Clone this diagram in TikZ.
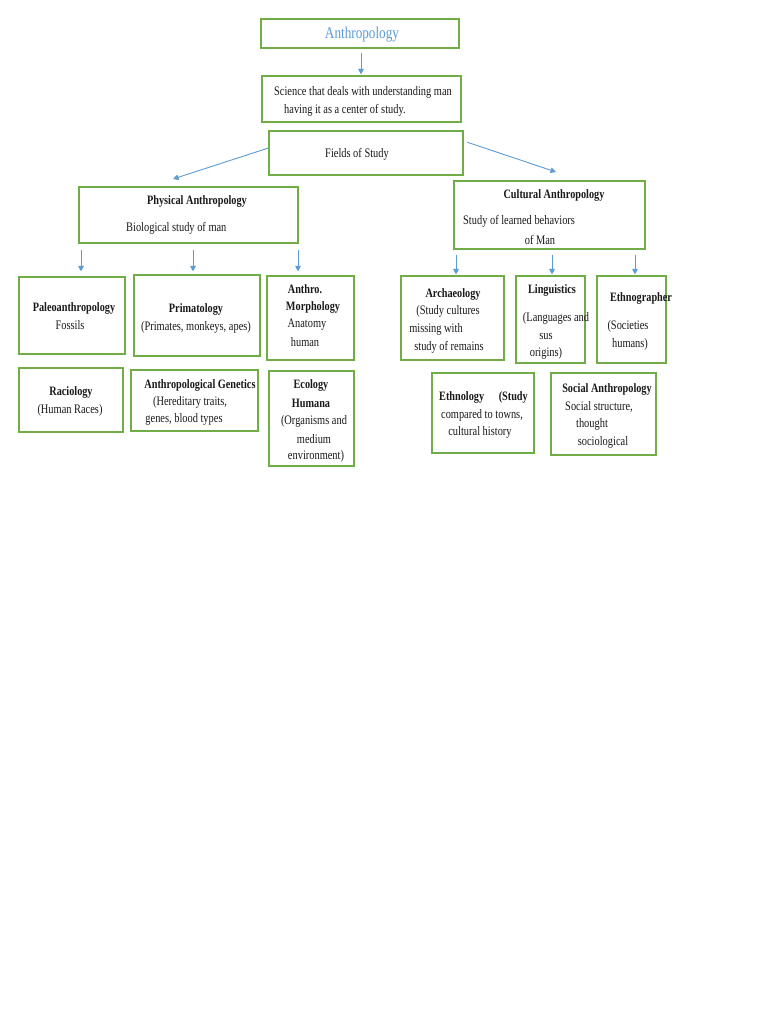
\documentclass[tikz,border=0pt]{standalone}
\usepackage{fontspec}
\setmainfont{Liberation Serif}[FakeStretch=0.8]
\usetikzlibrary{arrows.meta,fit}
\definecolor{boxgreen}{HTML}{70AD47}
\definecolor{arrblue}{HTML}{5B9BD5}
\begin{document}
\begin{tikzpicture}[x=1pt,y=-1pt,
  box/.style={draw=boxgreen,line width=1.1pt,inner sep=0pt,fill=none},
  txt/.style={inner sep=0pt,font=\fontsize{13}{15}\selectfont,text=black!90},
  btxt/.style={txt,font=\fontsize{12.8}{15}\selectfont\bfseries},
  arr/.style={draw=arrblue,line width=0.9pt,-{Triangle[length=5.5pt,width=5.5pt]}}]
\useasboundingbox[fill=white] (0,0) rectangle (768,1024);
% boxes
\node[box,fit={(261,19) (459,48)}] (anth) {};
\node[box,fit={(262,76) (461,122)}] (sci) {};
\node[box,fit={(269,131) (463,175)}] (fields) {};
\node[box,fit={(79,187) (298,243)}] (phys) {};
\node[box,fit={(454,181) (645,249)}] (cult) {};
\node[box,fit={(19,277) (125,354)}] (paleo) {};
\node[box,fit={(134,275) (260,356)}] (prim) {};
\node[box,fit={(267,276) (354,360)}] (morph) {};
\node[box,fit={(19,368) (123,432)}] (racio) {};
\node[box,fit={(131,370) (258,431)}] (genet) {};
\node[box,fit={(269,371) (354,466)}] (ecol) {};
\node[box,fit={(401,276) (504,360)}] (arch) {};
\node[box,fit={(516,276) (585,363)}] (ling) {};
\node[box,fit={(597,276) (666,363)}] (ethg) {};
\node[box,fit={(432,373) (534,453)}] (ethl) {};
\node[box,fit={(551,373) (656,455)}] (soc) {};
% texts
\node[txt,font=\fontsize{16.5}{18}\selectfont,text=arrblue] (tanth) at (362,35) {Anthropology};
\node[txt,anchor=west] (tsci1) at (274,92) {Science that deals with understanding man};
\node[txt,anchor=west] (tsci2) at (284,110) {having it as a center of study.};
\node[txt] (tfields) at (357,154) {Fields of Study};
\node[btxt] (tphys1) at (197,201) {Physical Anthropology};
\node[txt,anchor=west] (tphys2) at (126,228) {Biological study of man};
\node[btxt] (tcult1) at (554,195) {Cultural Anthropology};
\node[txt,anchor=west] (tcult2) at (463,221) {Study of learned behaviors};
\node[txt] (tcult3) at (540,240) {of Man};
\node[btxt] (tpal1) at (74,308) {Paleoanthropology};
\node[txt] (tpal2) at (70,325) {Fossils};
\node[btxt] (tprim1) at (196,309) {Primatology};
\node[txt] (tprim2) at (196,327) {(Primates, monkeys, apes)};
\node[btxt] (tmor1) at (305,289) {Anthro.};
\node[btxt] (tmor2) at (313,307) {Morphology};
\node[txt] (tmor3) at (307,325) {Anatomy};
\node[txt] (tmor4) at (305,342) {human};
\node[btxt] (trac1) at (71,392) {Raciology};
\node[txt] (trac2) at (70,410) {(Human Races)};
\node[btxt] (tgen1) at (200,385) {Anthropological Genetics};
\node[txt] (tgen2) at (190,402) {(Hereditary traits,};
\node[txt] (tgen3) at (184,419) {genes, blood types};
\node[btxt] (teco1) at (311,385) {Ecology};
\node[btxt] (teco2) at (311,403) {Humana};
\node[txt] (teco3) at (314,421) {(Organisms and};
\node[txt] (teco4) at (314,439) {medium};
\node[txt] (teco5) at (316,456) {environment)};
\node[btxt] (tarc1) at (453,294) {Archaeology};
\node[txt] (tarc2) at (448,311) {(Study cultures};
\node[txt] (tarc3) at (436,329) {missing with};
\node[txt] (tarc4) at (449,347) {study of remains};
\node[btxt] (tlin1) at (552,290) {Linguistics};
\node[txt] (tlin2) at (556,318) {(Languages and};
\node[txt] (tlin3) at (546,336) {sus};
\node[txt] (tlin4) at (546,353) {origins)};
\node[btxt] (teth1) at (641,298) {Ethnographer};
\node[txt] (teth2) at (628,326) {(Societies};
\node[txt] (teth3) at (630,344) {humans)};
\node[btxt,anchor=west] (tetl1) at (439,397) {Ethnology};
\node[btxt,anchor=east] (tetl1b) at (528,397) {(Study};
\node[txt] (tetl2) at (482,415) {compared to towns,};
\node[txt] (tetl3) at (480,432) {cultural history};
\node[btxt] (tsoc1) at (607,389) {Social Anthropology};
\node[txt] (tsoc2) at (599,407) {Social structure,};
\node[txt] (tsoc3) at (592,424) {thought};
\node[txt] (tsoc4) at (603,442) {sociological};
% arrows
\draw[arr,shorten <=4pt,shorten >=1pt] (anth.south -| 361,0) -- (sci.north -| 361,0);
\draw[arr,shorten <=0pt] (fields.west |- 0,148) -- (173,179);
\draw[arr,shorten <=4pt] (fields.east |- 0,141) -- (556,172);
\draw[arr,shorten <=6pt,shorten >=5pt] (phys.south -| 81,0) -- (paleo.north -| 81,0);
\draw[arr,shorten <=6pt,shorten >=3pt] (phys.south -| 193,0) -- (prim.north -| 193,0);
\draw[arr,shorten <=6pt,shorten >=4pt] (phys.south -| 298,0) -- (morph.north -| 298,0);
\draw[arr,shorten <=5pt,shorten >=1pt] (cult.south -| 456,0) -- (arch.north -| 456,0);
\draw[arr,shorten <=5pt,shorten >=1pt] (cult.south -| 552,0) -- (ling.north -| 552,0);
\draw[arr,shorten <=5pt,shorten >=1pt] (cult.south -| 635,0) -- (ethg.north -| 635,0);
\end{tikzpicture}
\end{document}
